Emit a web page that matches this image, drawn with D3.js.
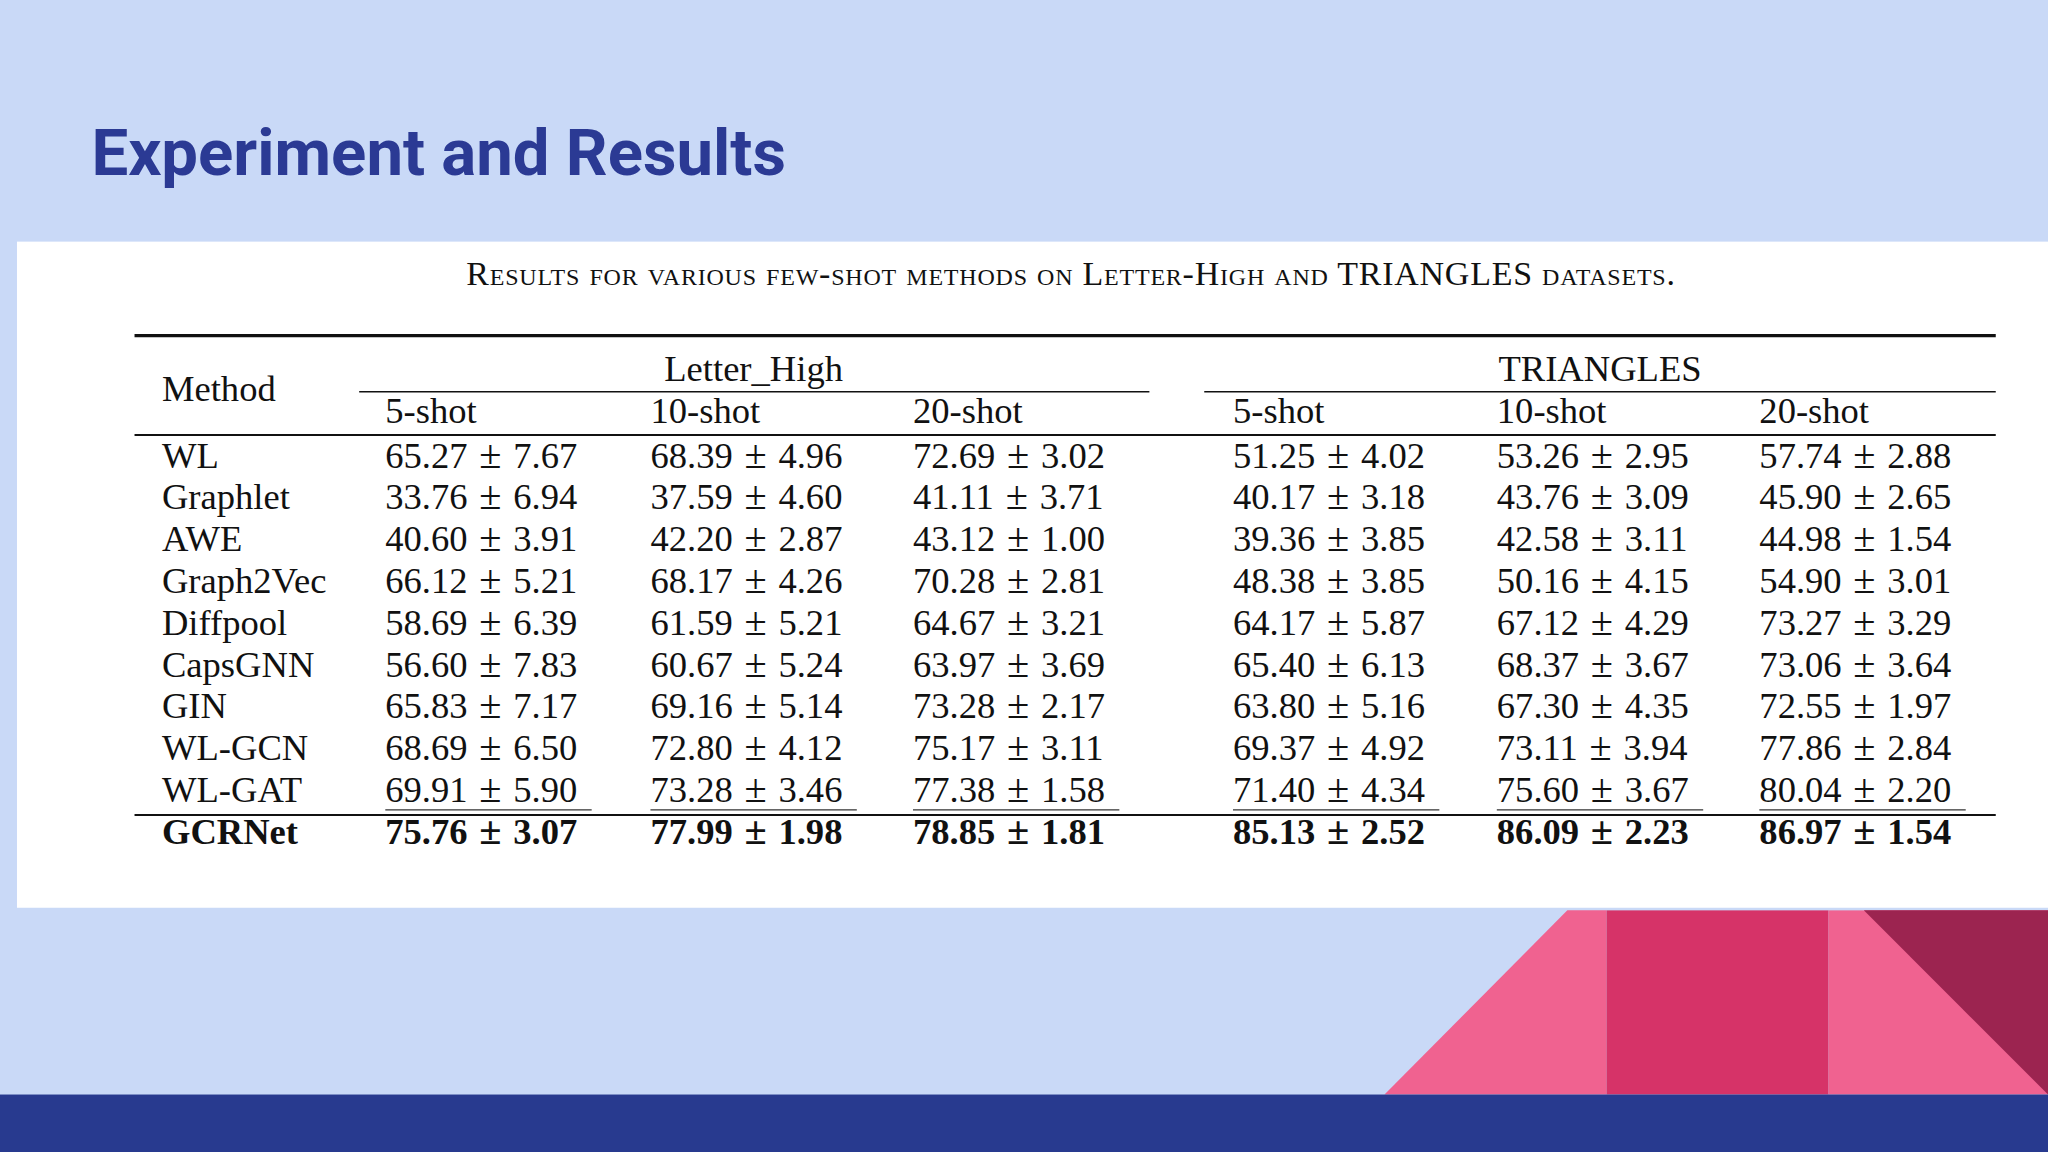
<!DOCTYPE html>
<html><head><meta charset="utf-8">
<script src="https://cdn.jsdelivr.net/npm/d3@7"></script>
<style>body{margin:0;overflow:hidden;background:#c9d9f7}</style>
</head><body><svg></svg>
<script>
const methods = ["WL","Graphlet","AWE","Graph2Vec","Diffpool","CapsGNN","GIN","WL-GCN","WL-GAT","GCRNet"]
const shots = ["5-shot","10-shot","20-shot","5-shot","10-shot","20-shot"]
const datasets = ["Letter_High","TRIANGLES"]
const means = [
  [65.27,68.39,72.69,51.25,53.26,57.74],
  [33.76,37.59,41.11,40.17,43.76,45.90],
  [40.60,42.20,43.12,39.36,42.58,44.98],
  [66.12,68.17,70.28,48.38,50.16,54.90],
  [58.69,61.59,64.67,64.17,67.12,73.27],
  [56.60,60.67,63.97,65.40,68.37,73.06],
  [65.83,69.16,73.28,63.80,67.30,72.55],
  [68.69,72.80,75.17,69.37,73.11,77.86],
  [69.91,73.28,77.38,71.40,75.60,80.04],
  [75.76,77.99,78.85,85.13,86.09,86.97]
]
const stds = [
  [7.67,4.96,3.02,4.02,2.95,2.88],
  [6.94,4.60,3.71,3.18,3.09,2.65],
  [3.91,2.87,1.00,3.85,3.11,1.54],
  [5.21,4.26,2.81,3.85,4.15,3.01],
  [6.39,5.21,3.21,5.87,4.29,3.29],
  [7.83,5.24,3.69,6.13,3.67,3.64],
  [7.17,5.14,2.17,5.16,4.35,1.97],
  [6.50,4.12,3.11,4.92,3.94,2.84],
  [5.90,3.46,1.58,4.34,3.67,2.20],
  [3.07,1.98,1.81,2.52,2.23,1.54]
]

const svg = d3.select("svg").attr("width",2048).attr("height",1152).attr("viewBox","0 0 1568 882")
svg.append("rect").attr("width",1568).attr("height",882).attr("fill","#c9d9f7")
svg.append("text").attr("x",70).attr("y",134).attr("font-family","Roboto").attr("font-weight","bold")
  .attr("font-size",50).attr("fill","#2b3a94").text("Experiment and Results")
svg.append("rect").attr("x",13).attr("y",185).attr("width",1555).attr("height",510).attr("fill","#fff")

// decorations
const deco = svg.append("g")
deco.append("polygon").attr("points","1060,838 1200,697 1230,697 1230,838").attr("fill","#f06290")
deco.append("rect").attr("x",1230).attr("y",697).attr("width",170).attr("height",141).attr("fill","#d63368")
deco.append("rect").attr("x",1400).attr("y",697).attr("width",168).attr("height",141).attr("fill","#f06290")
deco.append("polygon").attr("points","1427,697 1568,697 1568,838").attr("fill","#9c2450")
svg.append("rect").attr("x",0).attr("y",838).attr("width",1568).attr("height",44).attr("fill","#283a8f")

const serif = "Liberation Serif"
const g = svg.append("g").attr("font-family",serif).attr("fill","#111")
g.append("text").attr("x",820).attr("y",218).attr("text-anchor","middle").attr("font-size",26)
  .attr("font-variant","small-caps").attr("letter-spacing",0.6)
  .text("Results for various few-shot methods on Letter-High and TRIANGLES datasets.")

const x = d3.scaleOrdinal().domain(d3.range(6)).range([295,498,699,944,1146,1347])
const y = d3.scaleBand().domain(methods).range([333,653]).paddingInner(0)
const rule = (x1,x2,yy,w) => g.append("line").attr("x1",x1).attr("x2",x2).attr("y1",yy).attr("y2",yy).attr("stroke","#111").attr("stroke-width",w)
rule(103,1528,257,2.5)
rule(275,880,300,1.2); rule(922,1528,300,1.2)
rule(103,1528,333,1.5)
rule(103,1528,624,1.5)

g.selectAll(".ds").data(datasets).enter().append("text").attr("x",(d,i)=>i?1225:577).attr("y",292)
  .attr("text-anchor","middle").attr("font-size",28).text(d=>d)
g.append("text").attr("x",124).attr("y",307).attr("font-size",28).text("Method")
g.selectAll(".sh").data(shots).enter().append("text").attr("x",(d,i)=>x(i)).attr("y",324)
  .attr("font-size",28).text(d=>d)

const rows = g.selectAll(".row").data(methods).enter().append("g")
  .attr("transform",d=>`translate(0,${y(d)+y.bandwidth()/2+9})`)
  .attr("font-weight",d=>d==="GCRNet"?"bold":"normal")
rows.append("text").attr("x",124).attr("font-size",28).text(d=>d)
rows.each(function(m,r){
  const t = d3.select(this).selectAll(".v").data(means[r]).enter().append("text")
    .attr("x",(d,i)=>x(i)).attr("font-size",28)
  t.append("tspan").text(d=>d.toFixed(2))
  t.append("tspan").attr("dx",9).attr("font-size",31).text("±")
  t.append("tspan").attr("dx",9).text((d,i)=>stds[r][i].toFixed(2))
  if(m==="WL-GAT") d3.select(this).selectAll(".u").data(means[r]).enter().append("line")
    .attr("x1",(d,i)=>x(i)).attr("x2",(d,i)=>x(i)+158).attr("y1",6).attr("y2",6)
    .attr("stroke","#333").attr("stroke-width",1)
})
</script></body></html>
